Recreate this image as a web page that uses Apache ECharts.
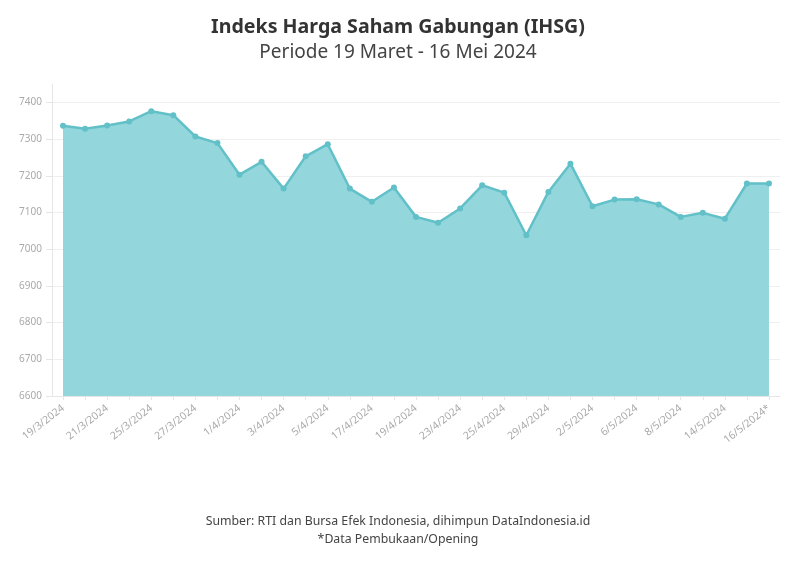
<!DOCTYPE html>
<html>
<head>
<meta charset="utf-8">
<script src="https://cdn.jsdelivr.net/npm/echarts@6/dist/echarts.min.js"></script>
<style>
html,body{margin:0;padding:0;background:#fff;}
#chart{width:796px;height:575px;}
</style>
</head>
<body>
<div id="chart"></div>
<script>
const categories = [
  '19/3/2024','20/3/2024','21/3/2024','22/3/2024','25/3/2024','26/3/2024','27/3/2024','28/3/2024',
  '1/4/2024','2/4/2024','3/4/2024','4/4/2024','5/4/2024','16/4/2024','17/4/2024','18/4/2024',
  '19/4/2024','22/4/2024','23/4/2024','24/4/2024','25/4/2024','26/4/2024','29/4/2024','30/4/2024',
  '2/5/2024','3/5/2024','6/5/2024','7/5/2024','8/5/2024','13/5/2024','14/5/2024','15/5/2024','16/5/2024*'
];
const ihsgValues = [
  7336, 7328, 7337, 7348, 7376, 7365, 7307, 7289,
  7203, 7238, 7165, 7253, 7286, 7165, 7129, 7168,
  7088, 7072, 7111, 7174, 7154, 7038, 7156, 7233,
  7117, 7135, 7136, 7122, 7088, 7099, 7083, 7179, 7179
];
const titleText = 'Indeks Harga Saham Gabungan (IHSG)';
const subtitleText = 'Periode 19 Maret - 16 Mei 2024';
const sourceLines = ['Sumber: RTI dan Bursa Efek Indonesia, dihimpun DataIndonesia.id', '*Data Pembukaan/Opening'];
const yMin = 6600, yMax = 7450, yStep = 100;

const FONT = '"Noto Sans", "Open Sans", sans-serif';
const chart = echarts.init(document.getElementById('chart'), null, {renderer: 'canvas'});
chart.setOption({
  animation: false,
  backgroundColor: '#fff',
  title: [
    {text: titleText, left: 'center', top: 12,
     textStyle: {fontFamily: FONT, fontSize: 19.6, fontWeight: 'bold', color: '#333'}},
    {text: subtitleText, left: 'center', top: 38,
     textStyle: {fontFamily: FONT, fontSize: 19, fontWeight: 'normal', color: '#444'}}
  ],
  graphic: [
    {type: 'text', left: 'center', top: 515,
     style: {text: sourceLines[0], font: '12.3px ' + FONT, fill: '#444', textAlign: 'center'}},
    {type: 'text', left: 'center', top: 533,
     style: {text: sourceLines[1], font: '12.3px ' + FONT, fill: '#444', textAlign: 'center'}}
  ],
  grid: {left: 52, right: 16, top: 84, bottom: 179, containLabel: false},
  xAxis: {
    type: 'category', data: categories, boundaryGap: true,
    axisLine: {show: true, lineStyle: {color: '#e6e6e6'}},
    axisTick: {show: true, alignWithLabel: true, interval: 0, length: 4, lineStyle: {color: '#e6e6e6'}},
    axisLabel: {interval: 1, rotate: 38, fontSize: 10.5, color: '#aaa', fontFamily: FONT, margin: 11}
  },
  yAxis: {
    type: 'value', min: yMin, max: yMax, interval: yStep,
    axisLine: {show: true, lineStyle: {color: '#e6e6e6'}},
    axisTick: {show: true, length: 6, lineStyle: {color: '#e6e6e6'}},
    axisLabel: {showMaxLabel: false, fontSize: 10, color: '#aaa', fontFamily: FONT, margin: 10,
                formatter: function (v) { return String(v); }},
    splitLine: {show: true, lineStyle: {color: ['#efefef','#efefef','#efefef','#efefef','#efefef','#efefef','#efefef','#efefef','#efefef','rgba(0,0,0,0)']}}
  },
  series: [{
    type: 'line', data: ihsgValues,
    symbol: 'circle', symbolSize: 6,
    itemStyle: {color: '#62c0c8'},
    lineStyle: {color: '#62c0c8', width: 2.5},
    areaStyle: {color: '#93d6dc', opacity: 1}
  }]
});
</script>
</body>
</html>
